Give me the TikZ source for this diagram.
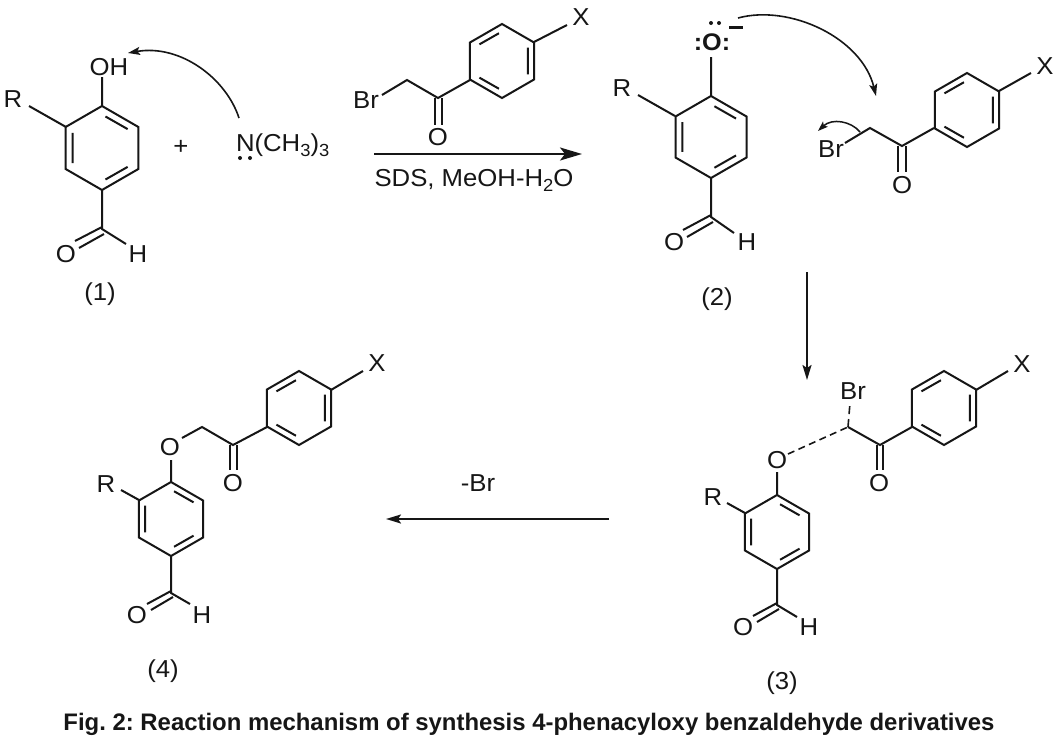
\documentclass[tikz,border=0pt]{standalone}
\usepackage{fontspec}
\setmainfont[FakeStretch=1.05]{Liberation Sans}
\newfontfamily\capfont{Liberation Sans}
\usetikzlibrary{arrows.meta}
\definecolor{ink}{HTML}{161616}
\frenchspacing
\newcommand{\lowr}[1]{\raisebox{-4.5pt}{\fontsize{17.5}{18}\selectfont #1}}
\newcommand{\ringA}[3]{\begin{scope}[shift={(#1,#2)},scale=#3]
\draw[bond] (0,-1)--(.866,-.5)--(.866,.5)--(0,1)--(-.866,.5)--(-.866,-.5)--cycle;
\draw[bond] (.083,-.75)--(.61,-.45) (-.7,-.36)--(-.7,.36) (.083,.75)--(.61,.45);
\end{scope}}
\newcommand{\ringB}[3]{\begin{scope}[shift={(#1,#2)},scale=#3]
\draw[bond] (0,-1)--(.866,-.5)--(.866,.5)--(0,1)--(-.866,.5)--(-.866,-.5)--cycle;
\draw[bond] (-.083,-.75)--(-.61,-.45) (.7,-.36)--(.7,.36) (-.083,.75)--(-.61,.45);
\end{scope}}
\tikzset{
 bond/.style={draw=ink,line width=2pt,line join=miter},
 atom/.style={inner sep=0pt,outer sep=0pt,text=ink,font=\fontsize{24.5}{28}\selectfont,text height=17.5pt,text depth=0pt,anchor=center},
 rxn/.style={draw=ink,line width=2pt},
 bighead/.style={-{Stealth[length=22pt,width=13pt,inset=5pt]}},
 midhead/.style={-{Stealth[length=15pt,width=9pt,inset=3pt]}},
 curly/.style={draw=ink,line width=1.6pt,-{Stealth[length=12pt,width=8pt,inset=2.5pt]}},
 pair/.style={fill=ink,circle,inner sep=0pt,minimum size=4pt},
}
\begin{document}
\begin{tikzpicture}[x=1pt,y=-1pt]
\useasboundingbox (0,0) rectangle (1061,744);
\fill[white] (0,0) rectangle (1061,744);
% ---------- (1)
\ringA{102}{148}{42}
\draw[bond] (102,106)--(102,77) (29,106)--(66,127) (102,190)--(102,229)--(126,244);
\draw[bond] (102,227)--(75,241) (104,234)--(79,248);
\node[atom] (oh1) at (109,67) {OH};
\node[atom] (r1) at (13,99) {R};
\node[atom] (o1) at (66,254) {O};
\node[atom] (h1) at (138,254) {H};
\node[atom] (lab1) at (100,292) {(1)};
\node[atom] (plus) at (181,146) {+};
\node[atom,anchor=west] (nme) at (236,143) {N(CH\lowr{3})\lowr{3}};
\node[pair] (nd1) at (240,158) {};
\node[pair] (nd2) at (250,158) {};
\coordinate (a1s) at (239,118);
\coordinate (a1e) at (128,53);
\draw[curly] (a1s) .. controls (226,78) and (180,44) .. (a1e);
% ---------- reagent
\ringB{502}{61}{37}
\draw[bond] (534,42)--(567,25) (470,80)--(438,98)--(407,80)--(382,95);
\draw[bond] (435,98)--(435,125) (442,98)--(442,125);
\node[atom] (x0) at (581,17) {X};
\node[atom] (br0) at (366,100) {Br};
\node[atom] (o0) at (438,137) {O};
\coordinate (m1) at (374,154);
\coordinate (m2) at (582,154);
\draw[rxn,bighead] (m1)--(m2);
\node[atom] (sds) at (474,178) {SDS, MeOH-H\lowr{2}O};
% ---------- (2)
\ringA{711}{137}{41}
\draw[bond] (711,96)--(711,57) (638,95)--(675,116) (711,178)--(711,217)--(734,233);
\draw[bond] (711,215)--(683,230) (713,222)--(687,237);
\node[atom,font=\fontsize{24}{28}\selectfont\bfseries] (o2) at (712,42) {:O:};
\node[pair] (od1) at (711,23) {};
\node[pair] (od2) at (719,23) {};
\draw[draw=ink,line width=3pt] (729,27)--(743,27);
\node[atom] (r2) at (622,88) {R};
\node[atom] (ao2) at (674,242) {O};
\node[atom] (h2) at (747,242) {H};
\node[atom] (lab2) at (717,297) {(2)};
\coordinate (a2s) at (738,18);
\coordinate (a2e) at (876,96);
\draw[curly] (a2s) .. controls (790,4) and (862,38) .. (a2e);
\ringB{967}{110}{37}
\draw[bond] (999,91)--(1031,73) (934,128)--(902,146)--(870,128)--(845,143);
\draw[bond] (898,146)--(898,172) (906,146)--(906,172);
\node[atom] (x2) at (1045,66) {X};
\node[atom] (br2) at (831,149) {Br};
\node[atom] (oc2) at (902,185) {O};
\coordinate (a3s) at (860,132);
\coordinate (a3e) at (818,131);
\draw[curly,line width=1.5pt,-{Stealth[length=10pt,width=7pt,inset=2pt]}] (a3s) .. controls (851,121) and (832,118) .. (a3e);
\coordinate (v1) at (807,272);
\coordinate (v2) at (807,380);
\draw[rxn,midhead] (v1)--(v2);
% ---------- (3)
\ringA{777}{532}{37}
\draw[bond] (777,472)--(777,495) (727,503)--(745,513) (777,569)--(777,605)--(797,617);
\draw[bond] (777,603)--(753,616) (779,609)--(757,622);
\draw[bond] (848,427)--(880,445)--(912,427);
\draw[bond] (877,445)--(877,470) (883,445)--(883,470);
\draw[bond,dash pattern=on 7pt off 4.5pt,line width=1.6pt] (788,454)--(848,427);
\draw[bond,dash pattern=on 8pt off 5pt,line width=1.6pt] (848,427)--(850,403);
\ringB{944}{408}{37}
\draw[bond] (976,390)--(1008,371);
\node[atom] (o3) at (777,460) {O};
\node[atom] (r3) at (713,497) {R};
\node[atom] (ao3) at (743,627) {O};
\node[atom] (h3) at (809,627) {H};
\node[atom] (lab3) at (782,681) {(3)};
\node[atom] (br3) at (853,391) {Br};
\node[atom] (oc3) at (879,483) {O};
\node[atom] (x3) at (1022,364) {X};
% ---------- (4)
\coordinate (h1s) at (609,519);
\coordinate (h1e) at (386,519);
\draw[rxn,midhead] (h1s)--(h1e);
\node[atom] (mbr) at (478,483) {-Br};
\ringA{171}{519}{37}
\draw[bond] (171,460)--(171,482) (121,490)--(139,500) (171,556)--(171,593)--(190,604);
\draw[bond] (171,591)--(147,604) (173,597)--(151,610);
\draw[bond] (182,438)--(202,427)--(233,445)--(267,427);
\draw[bond] (230,445)--(230,470) (237,445)--(237,470);
\ringB{299}{408}{37}
\draw[bond] (331,390)--(363,371);
\node[atom] (o4) at (170,447) {O};
\node[atom] (r4) at (106,484) {R};
\node[atom] (ao4) at (137,615) {O};
\node[atom] (h4) at (202,615) {H};
\node[atom] (lab4) at (163,669) {(4)};
\node[atom] (oc4) at (233,483) {O};
\node[atom] (x4) at (377,363) {X};
% ---------- caption
\node[inner sep=0pt,anchor=base,text=ink,font=\capfont\fontsize{23.9}{26}\selectfont\bfseries] (cap) at (529,730) {Fig. 2: Reaction mechanism of synthesis 4-phenacyloxy benzaldehyde derivatives};
\end{tikzpicture}
\end{document}
